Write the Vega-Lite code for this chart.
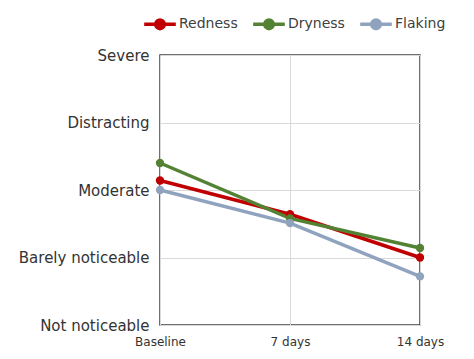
{
  "$schema": "https://vega.github.io/schema/vega-lite/v6.json",
  "autosize": "none",
  "width": 260,
  "height": 270,
  "padding": {"left": 160, "top": 55, "right": 54, "bottom": 34},
  "background": "white",
  "config": {
    "font": "DejaVu Sans",
    "view": {"stroke": "#404040", "strokeWidth": 1.5}
  },
  "data": {
    "values": [
      {"time": "Baseline", "symptom": "Redness", "score": 2.14},
      {"time": "7 days", "symptom": "Redness", "score": 1.64},
      {"time": "14 days", "symptom": "Redness", "score": 1.0},
      {"time": "Baseline", "symptom": "Dryness", "score": 2.4},
      {"time": "7 days", "symptom": "Dryness", "score": 1.58},
      {"time": "14 days", "symptom": "Dryness", "score": 1.14},
      {"time": "Baseline", "symptom": "Flaking", "score": 2.0},
      {"time": "7 days", "symptom": "Flaking", "score": 1.51},
      {"time": "14 days", "symptom": "Flaking", "score": 0.72}
    ]
  },
  "encoding": {
    "x": {
      "field": "time", "type": "ordinal", "sort": ["Baseline", "7 days", "14 days"],
      "scale": {"type": "point", "padding": 0},
      "axis": {"title": null, "labelAngle": 0, "domain": false, "ticks": false, "labelFontSize": 12, "labelColor": "#333333", "labelPadding": 11, "gridColor": "#d9d9d9", "grid": true}
    },
    "y": {
      "field": "score", "type": "quantitative",
      "scale": {"domain": [0, 4], "nice": false},
      "axis": {"title": null, "values": [0, 1, 2, 3, 4], "domain": false, "ticks": false, "labelFontSize": 15, "labelColor": "#333333", "labelPadding": 11, "gridColor": "#d9d9d9",
        "labelExpr": "['Not noticeable','Barely noticeable','Moderate','Distracting','Severe'][datum.value]"}
    },
    "color": {
      "field": "symptom", "type": "nominal", "sort": ["Redness", "Dryness", "Flaking"],
      "scale": {"domain": ["Redness", "Dryness", "Flaking"], "range": ["#C00000", "#548235", "#8FA3BF"]},
      "legend": {
        "title": null, "orient": "none", "direction": "horizontal", "legendX": -18, "legendY": -49,
        "labelFontSize": 14, "labelColor": "#404040", "columnPadding": 8, "symbolOffset": 0,
        "symbolType": "M-1,0L1,0M-0.27,0A0.27,0.27 0 1,1 0.27,0A0.27,0.27 0 1,1 -0.27,0Z",
        "symbolSize": 1000, "symbolStrokeWidth": 3.5, "labelOffset": 1
      }
    }
  },
  "layer": [
    {"mark": {"type": "line", "strokeWidth": 3.5}},
    {"mark": {"type": "point", "filled": true, "size": 70, "opacity": 1}}
  ]
}
